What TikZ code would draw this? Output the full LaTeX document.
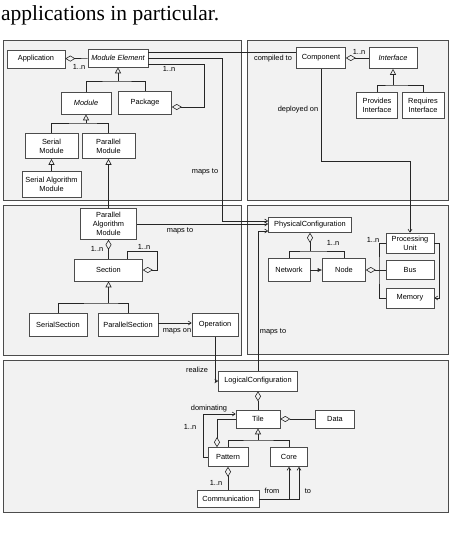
\documentclass[tikz,border=0pt]{standalone}
\usepackage{fontspec}
\setmainfont{Liberation Serif}
\newfontfamily\umlsans{Liberation Sans}
\usepackage{tikz}
\usetikzlibrary{arrows.meta}
\newcommand{\umlfont}{\umlsans\fontsize{7.4}{9}\selectfont}
\tikzstyle{panel} = [draw=black!70, fill=black!5, line width=0.8pt]
\tikzstyle{block} = [rectangle, draw=black!70, fill=white, font=\umlfont,
    align=center, inner sep=1pt, line width=0.6pt]
\tikzstyle{line} = [draw, black!85, line width=0.6pt]
\tikzstyle{arrow} = [line, -{Straight Barb[length=3pt,width=4pt]}]
\tikzstyle{inherit} = [line, -{Triangle[open,length=6pt,width=6pt]}]
\tikzstyle{aggr} = [line, {Diamond[open,length=10pt,width=6pt]}-]
\tikzstyle{lbl} = [font=\umlfont, inner sep=0pt]

\begin{document}
\begin{tikzpicture}[x=1pt, y=-1pt]
			\useasboundingbox (0,0) rectangle (474,535);
			\node [anchor=base west, inner sep=0pt, font=\fontsize{21.5}{24}\selectfont] (intro) at (1,21) {applications in particular.};
			% 
			\path [panel] (3,40) rectangle (241,200);
			\path [panel] (247,40) rectangle (448,200);
			\path [panel] (3,205) rectangle (241,355);
			\path [panel] (247,205) rectangle (448,354);
			\path [panel] (3,360) rectangle (448,512);

			\node [block, minimum width=58pt, minimum height=18pt] (app) at (36,59) {Application};
			\node [block, minimum width=60pt, minimum height=18pt, font=\umlfont\itshape] (modelem) at (118,58) {Module Element};
			\node [block, minimum width=50pt, minimum height=22pt, font=\umlfont\itshape] (module) at (86,103) {Module};
			\node [block, minimum width=53pt, minimum height=23pt, right of=module, node distance=59pt] (package) {Package};
			\node [block, minimum width=53pt, minimum height=25pt] (sermod) at (51.5,146) {Serial\\Module};
			\node [block, minimum width=53pt, minimum height=25pt, right of=sermod, node distance=57pt] (parmod) {Parallel\\Module};
			\node [block, minimum width=59pt, minimum height=26pt, below of=sermod, node distance=38pt] (seralg) {Serial Algorithm\\Module};

			\node [block, minimum width=49pt, minimum height=21pt] (component) at (321,58) {Component};
			\node [block, minimum width=48pt, minimum height=21pt, font=\umlfont\itshape, right of=component, node distance=72pt] (interface) {Interface};
			\node [block, minimum width=41pt, minimum height=26pt] (provides) at (377,105) {Provides\\Interface};
			\node [block, minimum width=42pt, minimum height=26pt, right of=provides, node distance=46pt] (requires) {Requires\\Interface};

			\node [block, minimum width=56pt, minimum height=31pt, below of=parmod, node distance=78pt] (paralg) {Parallel\\Algorithm\\Module};
			\node [block, minimum width=68pt, minimum height=22pt, below of=paralg, node distance=46pt] (section) {Section};
			\node [block, minimum width=58pt, minimum height=23pt] (sersec) at (58,325) {SerialSection};
			\node [block, minimum width=60pt, minimum height=23pt, right of=sersec, node distance=70pt] (parsec) {ParallelSection};
			\node [block, minimum width=46pt, minimum height=23pt, right of=parsec, node distance=87pt] (operation) {Operation};

			\node [block, minimum width=83pt, minimum height=15pt] (physconf) at (310,225) {PhysicalConfiguration};
			\node [block, minimum width=42pt, minimum height=23pt] (network) at (289,270) {Network};
			\node [block, minimum width=43pt, minimum height=23pt, right of=network, node distance=55pt] (physnode) {Node};
			\node [block, minimum width=48pt, minimum height=20pt] (procunit) at (410,243) {Processing\\Unit};
			\node [block, minimum width=48pt, minimum height=19pt, below of=procunit, node distance=27pt] (bus) {Bus};
			\node [block, minimum width=48pt, minimum height=20pt, below of=bus, node distance=28pt] (memory) {Memory};

			\node [block, minimum width=79pt, minimum height=20pt] (logconf) at (258,381) {LogicalConfiguration};
			\node [block, minimum width=44pt, minimum height=18pt, below of=logconf, node distance=38pt] (tile) {Tile};
			\node [block, minimum width=39pt, minimum height=18pt, right of=tile, node distance=77pt] (data) {Data};
			\node [block, minimum width=40pt, minimum height=19pt] (pattern) at (228,457) {Pattern};
			\node [block, minimum width=37pt, minimum height=19pt, right of=pattern, node distance=61pt] (core) {Core};
			\node [block, minimum width=62pt, minimum height=17pt, below of=pattern, node distance=42pt] (comm) {Communication};

			% Draw edges
			\path [aggr] (app) -- (modelem);
			\node [lbl] (appn) at (79,67) {1..n};
			\coordinate (genA) at (118,81);
			\path [line] (module.north) |- (genA) -| (package.north);
			\path [inherit] (genA) -- (modelem.south);
			\coordinate (loopA) at (204,64);
			\path [aggr] ([yshift=-4pt]package.east) -| (loopA) -- (loopA -| modelem.east);
			\node [lbl] (packn) at (169,69) {1..n};
			\coordinate (genB) at (86,123);
			\path [line] (sermod.north) |- (genB) -| (parmod.north);
			\path [inherit] (genB) -- (module.south);
			\path [inherit] (seralg) -- (sermod);
			\path [inherit] (paralg) -- (parmod);

			\path [line] ([yshift=6pt]modelem.east) -- ([yshift=6pt]modelem.east -| component.west);
			\node [lbl] (compiled) at (273,59) {compiled to};
			\coordinate (mapsA) at (222,221);
			\path [arrow] (modelem.east) -| (mapsA) -- (mapsA -| physconf.west);
			\node [lbl] (mapsmod) at (205,172) {maps to};

			\path [aggr] (component) -- (interface);
			\node [lbl] (compn) at (359,52) {1..n};
			\coordinate (genD) at (393,85);
			\path [line] (provides.north) |- (genD) -| (requires.north);
			\path [inherit] (genD) -- (interface.south);
			\coordinate (depA) at (410,161);
			\path [arrow] (component.south) |- (depA) -- (procunit.north);
			\node [lbl] (deployed) at (298,110) {deployed on};

			\path [aggr] (paralg) -- (section);
			\node [lbl] (secn) at (97,249) {1..n};
			\coordinate (loopB) at (157,251);
			\path [aggr] (section.east) -| (loopB) -| ([xshift=19pt]section.north);
			\node [lbl] (loopn) at (144,247) {1..n};
			\coordinate (genC) at (108.5,303);
			\path [line] (sersec.north) |- (genC) -| (parsec.north);
			\path [inherit] (genC) -- (section.south);
			\path [arrow] ([yshift=2pt]parsec.east) -- ([yshift=2pt]operation.west);
			\node [lbl] (mapson) at (177,331) {maps on};
			\path [arrow] (paralg.east) -- (paralg.east -| physconf.west);
			\node [lbl] (mapsalg) at (180,231) {maps to};

			\coordinate (genE) at (310,251);
			\path [aggr] (physconf.south) -- (genE);
			\path [line] (network.north) |- (genE) -| (physnode.north);
			\node [lbl] (physn) at (333,243) {1..n};
			\path [line, -{Latex[length=4.5pt,width=4pt]}] (network) -- (physnode);
			\coordinate (hwbus) at (379,270);
			\path [aggr] (physnode.east) -- (bus.west);
			\path [line] (procunit.west) -| (hwbus) |- (memory.west);
			\node [lbl] (hwn) at (373,240) {1..n};
			\path [arrow] (procunit.east) -| ([xshift=5pt]memory.east) -- (memory.east);
			\path [arrow] (logconf.north) |- ([yshift=-6pt]physconf.west);
			\node [lbl] (mapslog) at (273,332) {maps to};

			\path [arrow] (operation.south) |- (logconf.west);
			\node [lbl] (realize) at (197,370) {realize};
			\path [aggr] (logconf) -- (tile);
			\path [aggr] (tile) -- (data);
			\coordinate (genF) at (258,440);
			\path [line] (pattern.north) |- (genF) -| (core.north);
			\path [inherit] (genF) -- (tile.south);
			\path [aggr] ([xshift=-11pt]pattern.north) |- (tile.west);
			\coordinate (domA) at (203,414);
			\path [arrow] (pattern.west) -| (domA) -- (domA -| tile.west);
			\node [lbl] (dominating) at (209,409) {dominating};
			\node [lbl] (domn) at (190,427) {1..n};
			\path [aggr] (pattern) -- (comm);
			\node [lbl] (commn) at (216,483) {1..n};
			\path [arrow] (comm.east) -| (core.south);
			\node [lbl] (from) at (272,491) {from};
			\path [arrow] (comm.east) -| ([xshift=10pt]core.south);
			\node [lbl] (to) at (308,491) {to};
%
	\end{tikzpicture}
\end{document}
